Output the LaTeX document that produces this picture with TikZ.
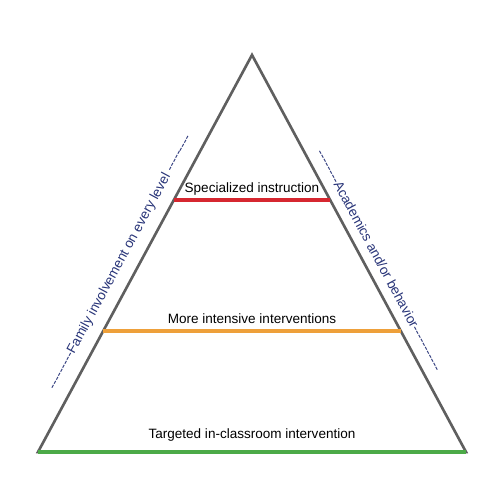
\documentclass[tikz,border=0pt]{standalone}
\usepackage{fontspec}
\setmainfont{Liberation Sans}[Ligatures=TeXOff]
\usepackage{xcolor}
\usetikzlibrary{calc}

\definecolor{edgegray}{RGB}{95,95,95}
\definecolor{tierred}{RGB}{214,39,48}
\definecolor{tierorange}{RGB}{238,160,58}
\definecolor{tiergreen}{RGB}{76,170,72}
\definecolor{sideblue}{RGB}{40,52,120}

\tikzset{
  tierlabel/.style={inner sep=0pt, anchor=base, font=\fontsize{7.7}{9}\selectfont},
  sidelabel/.style={inner sep=0pt, text=sideblue, font=\fontsize{7.7}{9}\selectfont}
}

\begin{document}
\begin{tikzpicture}[x=0.02cm, y=0.02cm]
\useasboundingbox (0,0) rectangle (500,500);

\coordinate (Apex) at (252, 445);
\coordinate (BaseL) at (38, 48);
\coordinate (BaseR) at (466, 48);

\coordinate (RedL) at ($(Apex)!0.365!(BaseL)$);
\coordinate (RedR) at ($(Apex)!0.365!(BaseR)$);
\coordinate (OrangeL) at ($(Apex)!0.695!(BaseL)$);
\coordinate (OrangeR) at ($(Apex)!0.695!(BaseR)$);

\draw[edgegray, line width=1.5pt] (Apex) -- (BaseL) -- (BaseR) -- cycle;

\draw[tierred, line width=2.1pt] (RedL) -- (RedR);
\node[tierlabel] (Special) at ($(RedL)!0.5!(RedR)+(0,7.3)$) {Specialized instruction};

\draw[tierorange, line width=1.9pt] (OrangeL) -- (OrangeR);
\node[tierlabel] (Intensive) at ($(OrangeL)!0.5!(OrangeR)+(0,7.7)$) {More intensive interventions};

\draw[tiergreen, line width=2.3pt] (BaseL) -- (BaseR);
\node[tierlabel] (Targeted) at ($(BaseL)!0.5!(BaseR)+(0,13.4)$) {Targeted in-classroom intervention};

\path (BaseL) -- (Apex) node[sidelabel, pos=0.457, sloped, above=6.3pt] (Family) {---------Family involvement on every level ---------};
\path (Apex) -- (BaseR) node[sidelabel, pos=0.535, sloped, above=5.5pt] (Academics) {--------Academics and/or behavior-----------};
\end{tikzpicture}
\end{document}
